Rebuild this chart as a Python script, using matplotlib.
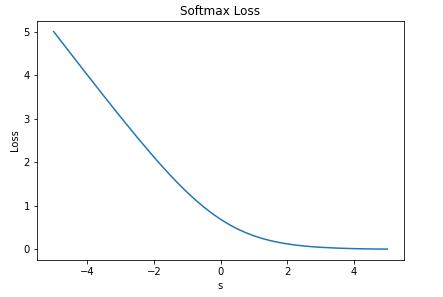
import matplotlib
matplotlib.use("Agg")
import matplotlib.pyplot as plt

s_values = [-5.0, -4.5, -4.0, -3.5, -3.0, -2.5, -2.0, -1.75, -1.5, -1.25, -1.0, -0.75,
            -0.5, -0.25, 0.0, 0.25, 0.5, 0.75, 1.0, 1.25, 1.5, 1.75, 2.0, 2.25, 2.5,
            2.75, 3.0, 3.5, 4.0, 4.5, 5.0]
loss_values = [5.007, 4.511, 4.018, 3.530, 3.049, 2.579, 2.127, 1.910, 1.701, 1.502,
               1.313, 1.137, 0.974, 0.826, 0.693, 0.576, 0.474, 0.387, 0.313, 0.252,
               0.201, 0.160, 0.127, 0.100, 0.079, 0.062, 0.049, 0.030, 0.018, 0.011,
               0.007]

fig = plt.figure(figsize=(443 / 72, 297 / 72), dpi=72)
ax = fig.add_axes([37 / 443, 1 - 260 / 297, (404 - 37) / 443, (260 - 20.7) / 297])
ax.plot(s_values, loss_values, color="#1f77b4", linewidth=1.5)
ax.set_title("Softmax Loss")
ax.set_xlabel("s")
ax.set_ylabel("Loss")
fig.savefig("out.png", dpi=72)
